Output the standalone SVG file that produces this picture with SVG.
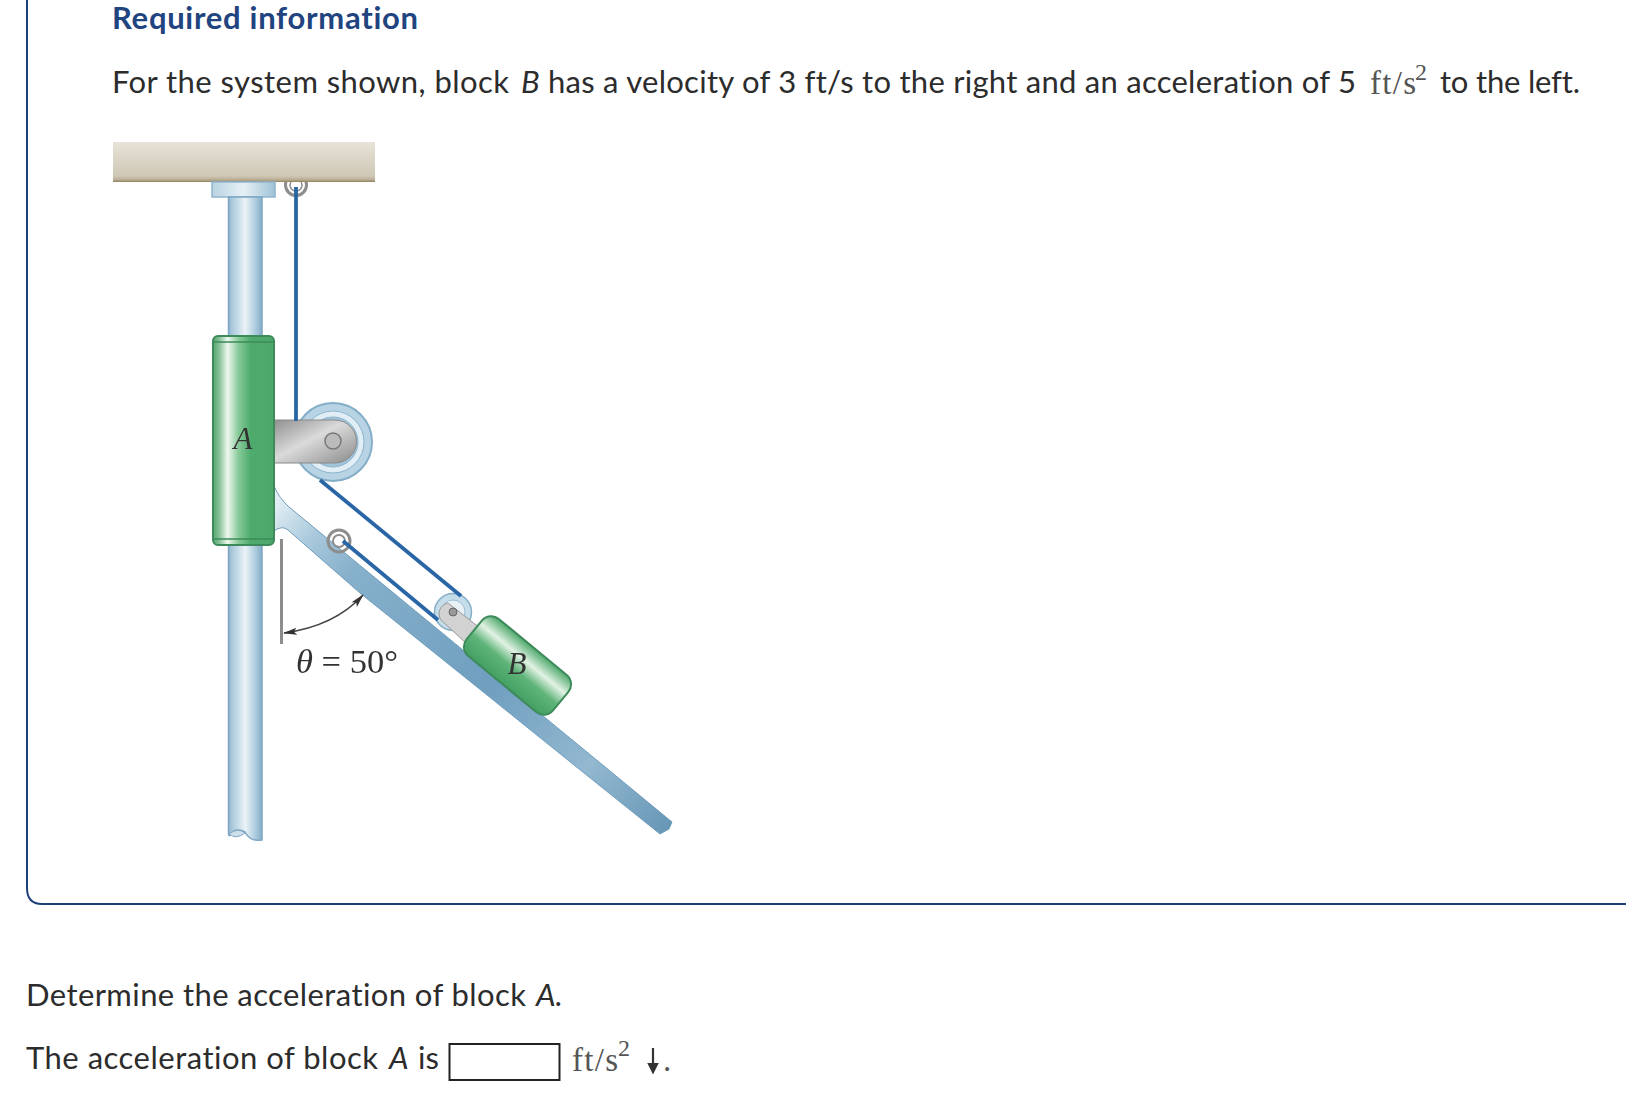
<svg xmlns="http://www.w3.org/2000/svg" width="1626" height="1118" viewBox="0 0 1626 1118">
<style>
.t{font-family:"Lato","Open Sans",sans-serif;font-size:31px;fill:#2c2c2c;font-variant-ligatures:none}
.i{font-style:italic}
.s{font-family:"Liberation Serif",serif;font-size:33px;fill:#555}
.l{font-family:"Liberation Serif",serif;font-size:31px;fill:#333}
.c{fill:none;stroke:#2a66a6;stroke-width:3.8}
.e{fill:none;stroke:#8d8d8d;stroke-width:3}
.b{filter:url(#soft)}
</style>
<defs>
<filter id="soft" x="-5%" y="-5%" width="110%" height="110%"><feGaussianBlur stdDeviation="0.6"/></filter>
<linearGradient id="ceilFill" x1="0" y1="0" x2="0" y2="1"><stop offset="0" stop-color="#e8e3d8"/><stop offset=".85" stop-color="#cfc8b6"/><stop offset=".95" stop-color="#b7aa90"/><stop offset="1" stop-color="#8d7d5e"/></linearGradient>
<linearGradient id="rodFill" x1="0" y1="0" x2="1" y2="0"><stop offset="0" stop-color="#8fb4cd"/><stop offset=".1" stop-color="#a9c8db"/><stop offset=".5" stop-color="#eaf3f7"/><stop offset=".85" stop-color="#a3c5da"/><stop offset="1" stop-color="#86adc8"/></linearGradient>
<linearGradient id="baseFill" x1="0" y1="0" x2="1" y2="0"><stop offset="0" stop-color="#b9d3e2"/><stop offset=".5" stop-color="#e6f0f5"/><stop offset="1" stop-color="#9fc2d7"/></linearGradient>
<linearGradient id="greenA" gradientUnits="userSpaceOnUse" x1="213" y1="0" x2="274" y2="0"><stop offset="0" stop-color="#55a66e"/><stop offset=".1" stop-color="#83c096"/><stop offset=".24" stop-color="#eef8ef"/><stop offset=".42" stop-color="#86c998"/><stop offset=".62" stop-color="#4dab6c"/><stop offset="1" stop-color="#4ea76c"/></linearGradient>
<linearGradient id="greenB" x1="0" y1="0" x2="0" y2="1"><stop offset="0" stop-color="#4fa96c"/><stop offset=".32" stop-color="#e2f2e4"/><stop offset=".6" stop-color="#5fb479"/><stop offset="1" stop-color="#44a063"/></linearGradient>
<linearGradient id="grey" x1="0" y1="0" x2="1" y2="1"><stop offset="0" stop-color="#8f8f8f"/><stop offset=".45" stop-color="#dadada"/><stop offset="1" stop-color="#8a8a8a"/></linearGradient>
<linearGradient id="inc" gradientUnits="userSpaceOnUse" x1="278" y1="500" x2="672" y2="825"><stop offset="0" stop-color="#e2eef4"/><stop offset=".1" stop-color="#a8c8db"/><stop offset=".2" stop-color="#86b0cb"/><stop offset=".55" stop-color="#6f9fbf"/><stop offset=".8" stop-color="#93b8d0"/><stop offset="1" stop-color="#6797b6"/></linearGradient>
<marker id="ah" markerWidth="14" markerHeight="8" refX="13" refY="4" orient="auto-start-reverse" markerUnits="userSpaceOnUse"><path d="M0,0.5 L14,4 L0,7.5 L3,4 Z" fill="#333"/></marker>
</defs>
<g id="panel"><path d="M27,0 V888 Q27,904 42,904 H1626" fill="none" stroke="#1f3f78" stroke-width="2"/></g>
<g id="text">
<text x="112" y="29" class="t" style="font-weight:700;fill:#1f4480" textLength="306">Required information</text>
<text x="112" y="93" class="t" textLength="397">For the system shown, block</text>
<text x="521" y="93" class="t i">B</text>
<text x="548" y="93" class="t" textLength="808">has a velocity of 3 ft/s to the right and an acceleration of 5</text>
<text x="1370" y="94" class="s" textLength="46">ft/s</text>
<text x="1415" y="80" class="s" style="font-size:24px">2</text>
<text x="1440" y="93" class="t" textLength="140">to the left.</text>
<text x="26" y="1006" class="t" textLength="500">Determine the acceleration of block</text>
<text x="536" y="1006" class="t i">A.</text>
<text x="26" y="1069" class="t" textLength="352">The acceleration of block</text>
<text x="389" y="1069" class="t i">A</text>
<text x="418" y="1069" class="t">is</text>
<rect x="449.500" y="1044" width="110" height="36" fill="#fff" stroke="#222" stroke-width="2"/>
<text x="572" y="1071" class="s" textLength="46">ft/s</text>
<text x="618" y="1056" class="s" style="font-size:24px">2</text>
<path d="M653,1048 V1068 M649,1064 L653,1072 L657,1064 Z" fill="#333" stroke="#333" stroke-width="2.200"/>
<text x="663" y="1071" class="s">.</text>
</g>
<g id="eyelet-top" class="b" fill="none">
<circle cx="296" cy="185" r="10.500" stroke="#8d8d8d" stroke-width="3"/><circle cx="296" cy="185" r="6" stroke="#8d8d8d" stroke-width="1.500"/>
</g>
<g id="ceiling" class="b"><rect x="113" y="142" width="262" height="40" fill="url(#ceilFill)"/></g>
<g id="rod" class="b">
<rect x="212" y="182" width="63" height="15" fill="url(#baseFill)" stroke="#8fb4cd" stroke-width="1.500"/>
<path d="M228.500,197 H262 V840 Q250,842 245,832 Q238,828 232,832 Q229,838 228.500,834 Z" fill="url(#rodFill)" stroke="#7ea6c2" stroke-width="1.500"/>
<path d="M229,834 Q236,840 245,833 Q238,827 229,834 Z" fill="#cfe0ea" stroke="#7ea6c2" stroke-width="1"/>
</g>
<g id="incline" class="b">
<path d="M274,486 Q279,498 289,507 L672,822 L669,829 L660,834 L360,593 L288,530 Q282,525 274,531 Z" fill="url(#inc)" stroke="#6f9dbc" stroke-width="1"/>
</g>
<g id="eyelet-incline" class="b" fill="none">
<circle cx="339" cy="541" r="11" stroke="#8d8d8d" stroke-width="3"/><circle cx="339" cy="541" r="6" stroke="#8d8d8d" stroke-width="2" fill="#fff"/>
</g>
<g id="pulley-large" class="b">
<circle cx="333" cy="442" r="39" fill="#b7d3e4" stroke="#84adc8" stroke-width="2"/>
<circle cx="333" cy="442" r="31" fill="#e1eef5" stroke="#8cb4cd" stroke-width="1"/>
<circle cx="333" cy="442" r="25" fill="#a2c4d9" stroke="#8cb4cd" stroke-width="1"/>
<path d="M274,420 H335 A21.500,21.500 0 0 1 335,463 H274 Z" fill="url(#grey)" stroke="#8a8a8a" stroke-width="1"/>
<circle cx="333" cy="441" r="8" fill="#bbb" stroke="#777" stroke-width="1.500"/>
</g>
<g id="block-A" class="b">
<rect x="213" y="336" width="61" height="209" rx="5" fill="url(#greenA)" stroke="#3d8a5a" stroke-width="2"/>
<path d="M214,342 H273 M214,539 H273" stroke="#3d8a5a" stroke-width="1.500"/>
<text x="243" y="449" class="l" text-anchor="middle" font-style="italic" style="font-size:31px">A</text>
</g>
<g id="pulley-small" class="b">
<circle cx="453" cy="612" r="18.500" fill="#c5dce9" stroke="#84adc8" stroke-width="1.500"/>
<circle cx="453" cy="612" r="12" fill="#e8f1f6" stroke="#9cbfd5" stroke-width="1"/>
<path d="M448,603 L480,628 L467,644 L441,620 A11,11 0 0 1 448,603 Z" fill="#d2d2d2" stroke="#999" stroke-width="1"/>
<circle cx="453" cy="612" r="4" fill="#999" stroke="#666" stroke-width="1"/>
</g>
<g id="block-B" class="b">
<rect x="-56" y="-24" width="112" height="48" rx="12" transform="translate(517.500 665.500) rotate(39.500)" fill="url(#greenB)" stroke="#3d8a5a" stroke-width="2"/>
<text x="517" y="674" class="l" text-anchor="middle" font-style="italic" style="font-size:31px">B</text>
</g>
<g id="connectors" class="b">
<path class="c" d="M296,187 V421"/>
<path class="c" d="M320,480 L461,596"/>
<path class="c" d="M343,541 L438,620"/>
<path class="e" d="M281.500,539 V644" stroke-width="2"/>
<path d="M284,633 Q335,626 363,595" fill="none" stroke="#444" stroke-width="1.500" marker-start="url(#ah)" marker-end="url(#ah)"/>
</g>
<g id="angle-label" class="b">
<text x="296" y="673" class="l" style="font-size:34.500px" xml:space="preserve"><tspan font-style="italic">θ</tspan> = 50°</text>
</g>
</svg>
